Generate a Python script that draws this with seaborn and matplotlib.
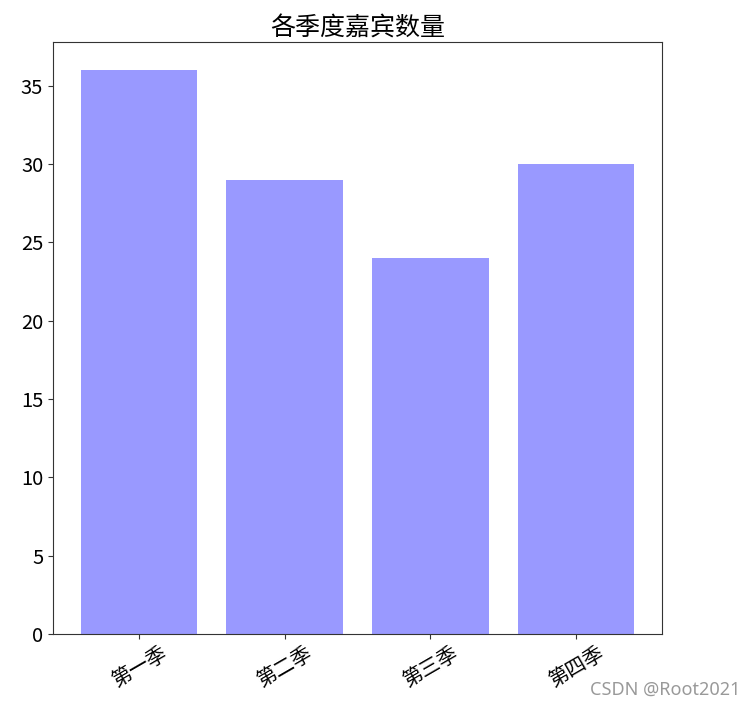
import matplotlib
matplotlib.use("Agg")
import matplotlib.pyplot as plt
import seaborn as sns
import pandas as pd

quarters = ["第一季", "第二季", "第三季", "第四季"]
guests = [36, 29, 24, 30]
title = "各季度嘉宾数量"

sns.set_style("white")
plt.rcParams['font.family'] = ['Noto Sans CJK SC', 'DejaVu Sans']
plt.rcParams['axes.unicode_minus'] = False
plt.rcParams['text.color'] = 'black'
plt.rcParams['xtick.color'] = 'black'
plt.rcParams['ytick.color'] = 'black'

df = pd.DataFrame({"quarter": quarters, "guests": guests})

fig = plt.figure(figsize=(7.52, 7.09), dpi=100)
ax = fig.add_axes([0.0705, 0.1058, 0.8098, 0.835])
sns.barplot(data=df, x="quarter", y="guests", color="#9999ff", saturation=1,
            width=0.8, ax=ax, errorbar=None, linewidth=0)
ax.set_xlim(-0.59, len(quarters) - 1 + 0.59)
ax.set_ylim(0, max(guests) * 1.05)
ax.set_xlabel("")
ax.set_ylabel("")
ax.set_title(title, fontsize=18, pad=4, color="black")
for s in ax.spines.values():
    s.set_visible(True)
    s.set_color("#333333")
    s.set_linewidth(0.8)
ax.tick_params(axis="both", which="both", length=3.5, width=0.8, color="#333333",
               labelsize=14.5, bottom=True, left=True, labelcolor="black")
plt.setp(ax.get_xticklabels(), rotation=30)
fig.text(0.985, 0.015, "CSDN @Root2021", ha="right", va="bottom", fontsize=13,
         color="#999999", family=["Noto Sans", "DejaVu Sans"])
fig.savefig("out.png", dpi=100)
